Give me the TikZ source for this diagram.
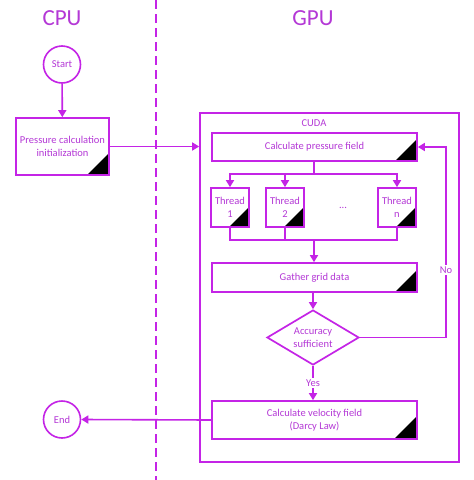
\documentclass[tikz,border=0pt]{standalone}
\usepackage{fontspec}
\setmainfont{Carlito}
\usetikzlibrary{shapes.geometric,arrows.meta}
\definecolor{ln}{RGB}{196,36,230}
\definecolor{tx}{RGB}{180,56,214}
\tikzset{
  every node/.style={text=tx,font=\fontsize{10.5}{12.5}\selectfont,align=center,inner sep=0pt},
  box/.style={draw=ln,line width=1.7pt,rectangle,fill=white},
  corner/.style={path picture={\fill[black] (path picture bounding box.south east) -- ++(-#1,0pt) -- ++(#1,#1) -- cycle;}},
  term/.style={draw=ln,line width=1.6pt,circle,minimum size=37pt,fill=white},
  link/.style={draw=ln,line width=1.6pt},
  arr/.style={link,-{Triangle[length=7pt,width=8pt]}},
  lbl/.style={fill=white,inner sep=1.5pt}
}
\begin{document}
\begin{tikzpicture}[x=1pt,y=-1pt]
\useasboundingbox[fill=white] (0,0) rectangle (474,480);
\draw[ln,line width=1.5pt,dash pattern=on 9pt off 5pt] (156,0) -- (156,480);
\node[font=\fontsize{23}{27}\selectfont] (cpu) at (62,18) {CPU};
\node[font=\fontsize{23}{27}\selectfont] (gpu) at (313,18) {GPU};
\node[term] (start) at (62,64.5) {Start};
\node[box,corner=22pt,minimum width=93pt,minimum height=57pt] (init) at (62.5,146.5) {Pressure calculation\\initialization};
\node[box,minimum width=259pt,minimum height=349pt,fill=none] (cuda) at (329.5,287.5) {};
\node (cudal) at (314,123) {CUDA};
\node[box,corner=22pt,minimum width=205pt,minimum height=28pt] (calcp) at (314.5,147) {Calculate pressure field};
\node[box,corner=20pt,minimum width=38pt,minimum height=39pt] (t1) at (230,207.5) {Thread\\1};
\node[box,corner=20pt,minimum width=38pt,minimum height=39pt] (t2) at (285,207.5) {Thread\\2};
\node[box,corner=20pt,minimum width=38pt,minimum height=39pt] (tn) at (397,207.5) {Thread\\n};
\node (dots) at (343,208) {...};
\node[box,corner=22pt,minimum width=205pt,minimum height=29pt] (gather) at (314.5,277.5) {Gather grid data};
\node[draw=ln,line width=1.7pt,diamond,aspect=1.67,minimum width=92pt,minimum height=55pt,fill=white] (acc) at (313,337.5) {Accuracy\\sufficient};
\node[box,corner=23pt,minimum width=205pt,minimum height=38pt] (vel) at (314.5,420) {Calculate velocity field\\(Darcy Law)};
\node[term] (end) at (62,419.5) {End};
\coordinate (split) at (314,174);
\coordinate (merge) at (314,240);
\coordinate (lb) at (446,337.5);
\coordinate (lt) at (446,147);
\draw[arr] (start) -- (init);
\draw[arr] (init.east) -- (cuda.west |- init.east);
\draw[link] (calcp.south -| split) -- (split);
\draw[arr] (split) -| (t1.north);
\draw[arr] (split) -| (t2.north);
\draw[arr] (split) -| (tn.north);
\draw[link] (t1.south) |- (merge);
\draw[link] (t2.south) |- (merge);
\draw[link] (tn.south) |- (merge);
\draw[arr] (merge) -- (gather.north -| merge);
\draw[arr] (gather.south -| acc) -- (acc.north);
\draw[arr] (acc.east) -- (lb) -- (lt) -- (calcp.east);
\node[lbl] (no) at (446,270) {No};
\draw[arr] (acc.south) -- (vel.north -| acc);
\node[lbl] (yes) at (313,383) {Yes};
\draw[arr] (vel.west) -- (end.east);
\end{tikzpicture}
\end{document}
